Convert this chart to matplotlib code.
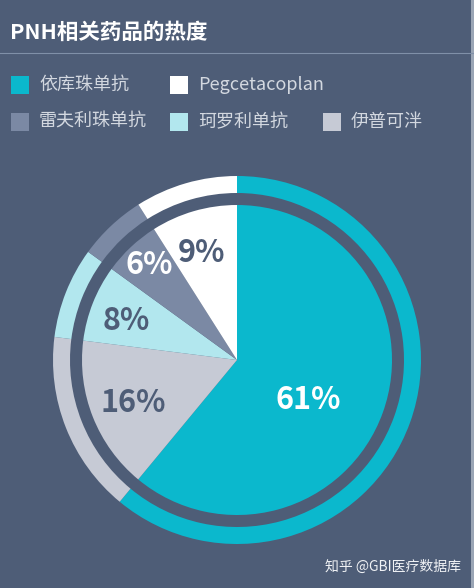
import matplotlib.pyplot as plt
import matplotlib.patches as patches

plt.rcParams['font.family'] = ['Noto Sans CJK SC', 'DejaVu Sans']

# data
drugs = ['依库珠单抗', '伊普可泮', '珂罗利单抗', '雷夫利珠单抗', 'Pegcetacoplan']
shares = [61, 16, 8, 6, 9]
colors = ['#0bb8cd', '#c6cad5', '#b2e7ee', '#7b89a4', '#ffffff']
label_colors = ['#ffffff', '#4e5d77', '#4e5d77', '#ffffff', '#4e5d77']

# legend order as in the picture
legend_rows = [['依库珠单抗', 'Pegcetacoplan'],
               ['雷夫利珠单抗', '珂罗利单抗', '伊普可泮']]

bg = '#4e5d77'
W, H = 474, 588

fig = plt.figure(figsize=(W / 100, H / 100), dpi=100, facecolor=bg)
ax = fig.add_axes([0, 0, 1, 1])
ax.set_facecolor(bg)

cx, cy = 237, H - 360

# outer ring
ax.pie(shares, colors=colors, startangle=90, counterclock=False,
       radius=184, center=(cx, cy), frame=True,
       wedgeprops=dict(width=17, linewidth=0))
# inner pie
ax.pie(shares, colors=colors, startangle=90, counterclock=False,
       radius=155, center=(cx, cy), frame=True,
       wedgeprops=dict(linewidth=0))
ax.set_xlim(0, W)
ax.set_ylim(0, H)
ax.set_aspect('equal')
ax.axis('off')

# percentage labels
label_pos = [(308, 400), (133, 403), (126, 321), (149, 265), (202, 253)]
for v, (x, y), c in zip(shares, label_pos, label_colors):
    ax.text(x, H - y, f'{v}%', color=c, fontsize=22,
            family='Noto Sans CJK SC', fontweight='bold',
            ha='center', va='center')

# title
ax.text(10, H - 32, 'PNH相关药品的热度', color='white', fontsize=15.5,
        fontweight='bold', ha='left', va='center')
ax.plot([0, W], [H - 53, H - 53], color='#8090a8', lw=0.8)

# legend
col_x = [11, 170, 323]
row_y = [85, 122]
for r, names in enumerate(legend_rows):
    for c, name in enumerate(names):
        x, y = col_x[c], H - row_y[r]
        ax.add_patch(patches.Rectangle((x, y - 9), 18, 18,
                                       facecolor=colors[drugs.index(name)],
                                       linewidth=0))
        ax.text(x + 28, y, name, color='#d3d8e0', fontsize=13,
                fontweight='light', ha='left', va='center')

# watermark
ax.text(461, H - 567, '知乎 @GBI医疗数据库', color='#f0f2f5', fontsize=10,
        ha='right', va='center')

# light right border
ax.add_patch(patches.Rectangle((471, 0), 3, H, facecolor='#9aa5b5', linewidth=0))

fig.savefig('out.png', dpi=100, facecolor=bg)
